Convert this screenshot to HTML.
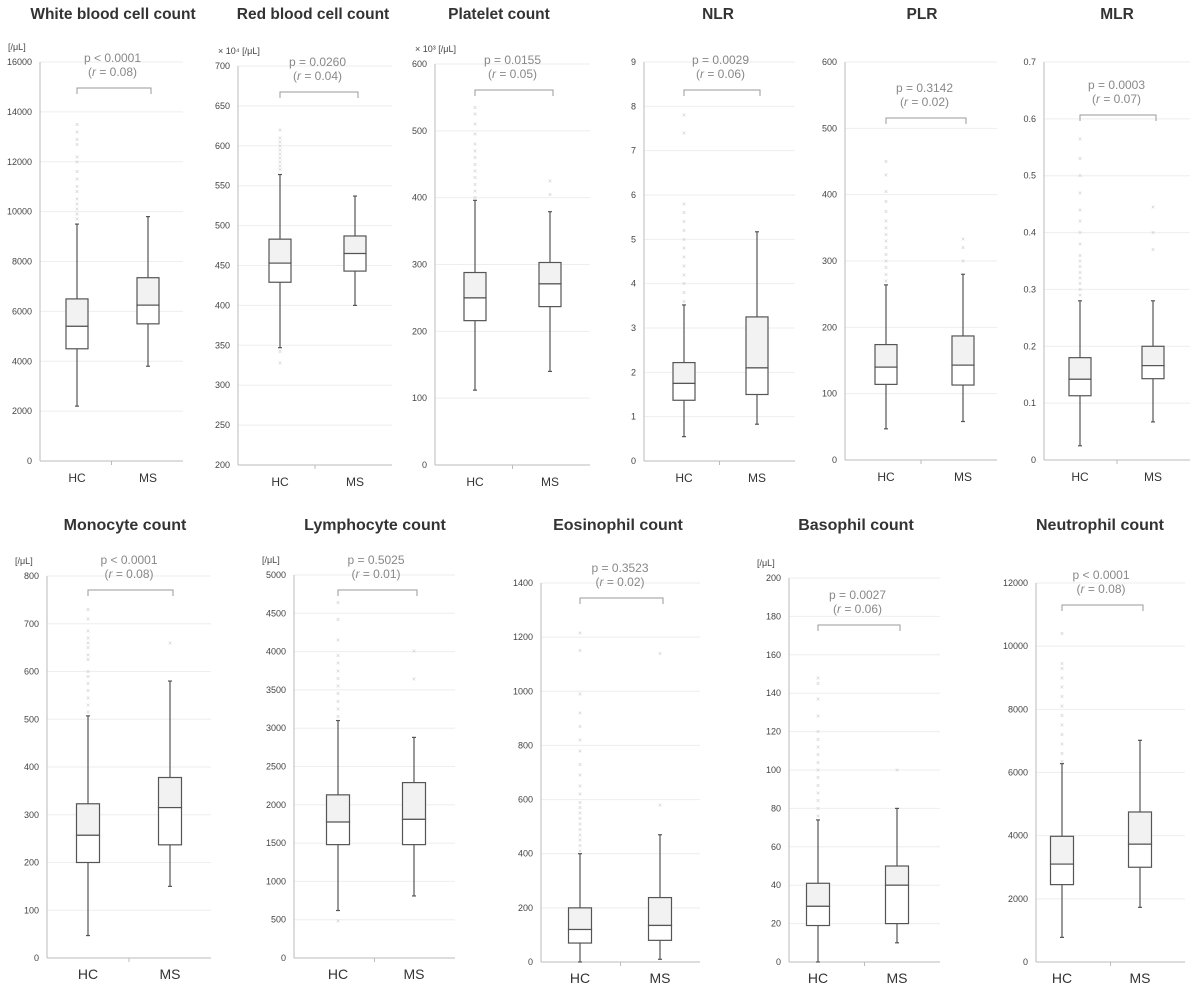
<!DOCTYPE html>
<html><head><meta charset="utf-8"><style>
body{margin:0;background:#fff;}
svg{display:block;font-family:"Liberation Sans",sans-serif;}
</style></head><body>
<svg id="c" width="1200" height="992" viewBox="0 0 1200 992" xmlns="http://www.w3.org/2000/svg"></svg>
<script>
// [min, q1, median, q3, max]
const wbcHC=[2200,4500,5400,6500,9500], wbcMS=[3800,5500,6250,7350,9800];
const wbcHCOut=[9700,9900,10100,10300,10500,10800,11000,11300,11600,12000,12200,12700,12900,13200,13500], wbcMSOut=[];
const rbcHC=[347,429,453,483,564], rbcMS=[400,443,465,487,537];
const rbcHCOut=[570,575,580,585,590,595,600,605,610,620,342,328], rbcMSOut=[];
const pltHC=[112,216,250,288,396], pltMS=[140,237,271,303,379];
const pltHCOut=[400,410,420,430,440,450,460,470,480,495,510,525,535], pltMSOut=[405,425];
const nlrHC=[0.55,1.37,1.75,2.22,3.52], nlrMS=[0.83,1.5,2.1,3.25,5.17];
const nlrHCOut=[3.6,3.8,4.0,4.2,4.4,4.6,4.8,5.0,5.2,5.4,5.6,5.8,7.4,7.8], nlrMSOut=[];
const plrHC=[47,114,140,174,264], plrMS=[58,113,143,187,280];
const plrHCOut=[270,280,290,300,310,320,330,340,350,360,375,390,405,430,450], plrMSOut=[300,320,333];
const mlrHC=[0.025,0.113,0.142,0.18,0.28], mlrMS=[0.067,0.143,0.166,0.2,0.28];
const mlrHCOut=[0.29,0.30,0.31,0.32,0.33,0.34,0.35,0.36,0.38,0.40,0.42,0.44,0.47,0.50,0.53,0.565], mlrMSOut=[0.37,0.4,0.445];
const monoHC=[47,200,257,323,507], monoMS=[150,237,315,378,580];
const monoHCOut=[515,530,545,560,575,590,600,625,635,650,660,670,685,710,730], monoMSOut=[660];
const lymHC=[620,1480,1775,2130,3100], lymMS=[810,1480,1810,2290,2880];
const lymHCOut=[3150,3250,3350,3450,3550,3650,3750,3850,3950,4150,4420,4640,480], lymMSOut=[3640,4010];
const eosHC=[0,70,120,200,400], eosMS=[10,80,135,238,470];
const eosHCOut=[410,430,450,470,490,510,530,550,570,590,620,650,690,730,780,820,870,920,990,1150,1215], eosMSOut=[580,1140];
const basHC=[0,19,29,41,74], basMS=[10,20,40,50,80];
const basHCOut=[76,80,84,88,92,96,100,104,108,112,116,120,128,137,145,148], basMSOut=[100];
const neuHC=[780,2450,3100,3980,6280], neuMS=[1730,3000,3730,4750,7020];
const neuHCOut=[6350,6600,6900,7200,7500,7800,8100,8400,8700,9000,9300,9450,10400], neuMSOut=[];
const pTexts=["p < 0.0001","p = 0.0260","p = 0.0155","p = 0.0029","p = 0.3142","p = 0.0003","p < 0.0001","p = 0.5025","p = 0.3523","p = 0.0027","p < 0.0001"];
const rTexts=["0.08","0.04","0.05","0.06","0.02","0.07","0.08","0.01","0.02","0.06","0.08"];
const titles=["White blood cell count","Red blood cell count","Platelet count","NLR","PLR","MLR","Monocyte count","Lymphocyte count","Eosinophil count","Basophil count","Neutrophil count"];

const panels=[
 {hc:wbcHC,ms:wbcMS,ho:wbcHCOut,mo:wbcMSOut,min:0,max:16000,step:2000,ax:40,x2:183,yt:62,yb:461,hx:77,mx:148,br:88,unit:"[/μL]",tx:113,ty:19,big:false},
 {hc:rbcHC,ms:rbcMS,ho:rbcHCOut,mo:rbcMSOut,min:200,max:700,step:50,ax:238,x2:392,yt:66,yb:465,hx:280,mx:355,br:92,unit:"× 10⁴ [/μL]",tx:313,ty:19,big:false},
 {hc:pltHC,ms:pltMS,ho:pltHCOut,mo:pltMSOut,min:0,max:600,step:100,ax:435,x2:590,yt:64,yb:465,hx:475,mx:550,br:90,unit:"× 10³ [/μL]",tx:499,ty:19,big:false},
 {hc:nlrHC,ms:nlrMS,ho:nlrHCOut,mo:nlrMSOut,min:0,max:9,step:1,ax:644,x2:795,yt:62,yb:461,hx:684,mx:757,br:90,unit:"",tx:718,ty:19,big:false},
 {hc:plrHC,ms:plrMS,ho:plrHCOut,mo:plrMSOut,min:0,max:600,step:100,ax:845,x2:997,yt:62,yb:460,hx:886,mx:963,br:118,unit:"",tx:922,ty:19,big:false},
 {hc:mlrHC,ms:mlrMS,ho:mlrHCOut,mo:mlrMSOut,min:0,max:0.7,step:0.1,ax:1044,x2:1190,yt:62,yb:460,hx:1080,mx:1153,br:115,unit:"",tx:1117,ty:19,big:false},
 {hc:monoHC,ms:monoMS,ho:monoHCOut,mo:monoMSOut,min:0,max:800,step:100,ax:47,x2:211,yt:576,yb:958,hx:88,mx:170,br:590,unit:"[/μL]",tx:125,ty:530,big:true},
 {hc:lymHC,ms:lymMS,ho:lymHCOut,mo:lymMSOut,min:0,max:5000,step:500,ax:294,x2:455,yt:575,yb:958,hx:338,mx:414,br:590,unit:"[/μL]",tx:375,ty:530,big:true},
 {hc:eosHC,ms:eosMS,ho:eosHCOut,mo:eosMSOut,min:0,max:1400,step:200,ax:541,x2:700,yt:583,yb:962,hx:580,mx:660,br:598,unit:"",tx:618,ty:530,big:true},
 {hc:basHC,ms:basMS,ho:basHCOut,mo:basMSOut,min:0,max:200,step:20,ax:789,x2:940,yt:578,yb:962,hx:818,mx:897,br:625,unit:"[/μL]",tx:856,ty:530,big:true},
 {hc:neuHC,ms:neuMS,ho:neuHCOut,mo:neuMSOut,min:0,max:12000,step:2000,ax:1036,x2:1185,yt:583,yb:962,hx:1062,mx:1140,br:605,unit:"",tx:1100,ty:530,big:true}
];
const NS="http://www.w3.org/2000/svg";
const svg=document.getElementById('c');
function mk(tag,attrs,parent,text){const e=document.createElementNS(NS,tag);for(const k in attrs)e.setAttribute(k,attrs[k]);if(text!==undefined)e.textContent=text;(parent||svg).appendChild(e);return e;}
function fmt(v,step){return step<1?(Math.round(v*10)/10).toString():Math.round(v).toString();}
panels.forEach((p,i)=>{
  const g=mk('g',{});
  
  
  const y=v=>p.yb-(v-p.min)/(p.max-p.min)*(p.yb-p.yt);
  const t=mk('text',{x:p.tx,y:p.ty,'text-anchor':'middle','font-size':p.big?16:15.5,'font-weight':'bold',fill:'#333'},g,titles[i]);
  
  
  const fs=9;
  for(let v=p.min;v<=p.max+1e-9;v+=p.step){
    const yy=y(v);
    if(v>p.min){const gl=mk('line',{x1:p.ax,x2:p.x2,y1:yy,y2:yy,stroke:'#eee','stroke-width':1},g);
      }
    const tl=mk('text',{x:p.ax-8,y:yy+3,'text-anchor':'end','font-size':fs,fill:'#444'},g,fmt(v,p.step));
    
  }
  const ya=mk('line',{x1:p.ax,x2:p.ax,y1:p.yt,y2:p.yb,stroke:'#bbb'},g);
  
  const xa=mk('line',{x1:p.ax,x2:p.x2,y1:p.yb,y2:p.yb,stroke:'#bbb'},g);
  
  const midx=(p.ax+p.x2)/2;
  mk('line',{x1:midx,x2:midx,y1:p.yb,y2:p.yb+4,stroke:'#bbb'},g);
  if(p.unit){const u=mk('text',{x:p.ax-(p.unit.length>6?20:32),y:p.yt-12,'font-size':9,fill:'#444'},g,p.unit);
    }
  [['HC',p.hc,p.ho,p.hx],['MS',p.ms,p.mo,p.mx]].forEach(([lab,d,out,cx])=>{
    const bw=p.big?23:22;
    const bg=mk('g',{},g);
    
    
    mk('line',{x1:cx,x2:cx,y1:y(d[0]),y2:y(d[1]),stroke:'#555','stroke-width':1.2},bg);
    mk('line',{x1:cx,x2:cx,y1:y(d[3]),y2:y(d[4]),stroke:'#555','stroke-width':1.2},bg);
    mk('line',{x1:cx-2,x2:cx+2,y1:y(d[0]),y2:y(d[0]),stroke:'#555','stroke-width':1.2},bg);
    mk('line',{x1:cx-2,x2:cx+2,y1:y(d[4]),y2:y(d[4]),stroke:'#555','stroke-width':1.2},bg);
    mk('rect',{x:cx-bw/2,y:y(d[3]),width:bw,height:y(d[2])-y(d[3]),fill:'#f2f2f2',stroke:'#555','stroke-width':1.2},bg);
    mk('rect',{x:cx-bw/2,y:y(d[2]),width:bw,height:y(d[1])-y(d[2]),fill:'#fff',stroke:'#555','stroke-width':1.2},bg);
    out.forEach(v=>{const yy=y(v);
      const o=mk('text',{x:cx,y:yy+2.5,'text-anchor':'middle','font-size':7,fill:'#ccc'},bg,'×');
      });
    const xl=mk('text',{x:cx,y:p.yb+21,'text-anchor':'middle','font-size':p.big?14:12,fill:'#333'},g,lab);
    
  });
  const b=mk('path',{d:`M${p.hx},${p.br+6}V${p.br}H${p.mx+3}V${p.br+6}`,fill:'none',stroke:'#999','stroke-width':1},g);
  
  const cx=(p.hx+p.mx)/2;
  const pt=mk('text',{x:cx,y:p.br-26,'text-anchor':'middle','font-size':12,fill:'#888'},g,pTexts[i]);
  
  const rt=mk('text',{x:cx,y:p.br-12,'text-anchor':'middle','font-size':12,fill:'#888'},g);
  
  mk('tspan',{},rt,'(');mk('tspan',{'font-style':'italic'},rt,'r');mk('tspan',{},rt,' = '+rTexts[i]+')');
});
</script>
</body></html>
